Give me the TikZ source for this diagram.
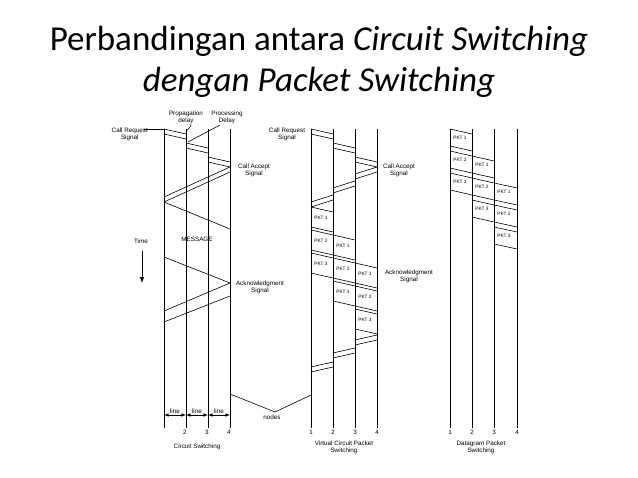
\documentclass[tikz,border=0pt]{standalone}
\usepackage{fontspec}
\setmainfont{Carlito}
\newfontfamily\lab{Liberation Sans}
\begin{document}
\begin{tikzpicture}[x=1pt,y=-1pt,
  ln/.style={line width=0.6pt},
  thk/.style={line width=0.9pt},
  sm/.style={font=\lab\fontsize{6.3}{7}\selectfont,align=center,inner sep=0pt},
  tiny/.style={font=\lab\fontsize{4.8}{5}\selectfont,inner sep=0pt}]
\useasboundingbox (0,0) rectangle (638,478);
\node[font=\fontsize{35}{41}\selectfont,align=center] (title) at (319,62) {Perbandingan antara \textit{Circuit Switching}\\\textit{dengan Packet Switching}};
% ---------- Circuit switching
\foreach \x/\n in {164/1,186/2,208/3,230/4}{\draw[ln] (\x,129)--(\x,428);}
\draw[thk] (208,140)--(208,265);
\draw[thk] (164,232)--(164,428);
\foreach \x/\n in {186/2,208/3,230/4}{\node[sm] (c\n) at (\x-1,432) {\n};}
% call request
\foreach \a/\b/\y in {164/186/129,186/208/143,208/230/157}{
  \draw[ln] (\a,\y)--(\b,\y+5); \draw[ln] (\a,\y+5)--(\b,\y+10);}
% call accept
\draw[ln] (230,167)--(164,197); \draw[ln] (230,172)--(164,202);
% message
\draw[ln] (164,202)--(230,229); \draw[ln] (164,257)--(230,283);
% ack
\draw[ln] (230,283)--(164,311); \draw[ln] (230,296)--(164,322);
\node[sm,anchor=east] (crs) at (148,134) {Call Request\\Signal};
\draw[ln] (144,129)--(164,129);
\node[sm] (pd) at (186,117) {Propagation\\delay};
\draw[ln] (191,124) .. controls (192,128) and (186,128) .. (186,133);
\node[sm] (prd) at (227,117) {Processing\\Delay};
\draw[ln] (220,125)--(188,142);
\node[sm] (cas) at (254,170) {Call Accept\\Signal};
\node[sm] (msg) at (197,239) {MESSAGE};
\node[sm] (time) at (141,241) {Time};
\draw[line width=1pt,-latex] (142,251)--(142,283);
\node[sm] (acks) at (260,287) {Acknowledgment\\Signal};
\foreach \a/\b in {164/186,186/208,208/230}{
  \draw[ln,latex-latex] (\a,415)--(\b,415);
  \node[sm,fill=white,inner sep=0.5pt] at ({(\a+\b)/2},411) {line};}
\node[sm] (nodes) at (272,417) {nodes};
\draw[ln] (230,394)--(275,412)--(311,395);
\node[sm] (cs) at (197,447) {Circuit Switching};
% ---------- Virtual circuit
\foreach \x in {311,333,355,377}{\draw[ln] (\x,129)--(\x,428);}
\foreach \x/\n in {311/1,333/2,355/3,377/4}{\node[sm] at (\x,432) {\n};}
\foreach \a/\b/\y in {311/333/129,333/355/143,355/377/157}{
  \draw[ln] (\a,\y)--(\b,\y+5); \draw[ln] (\a,\y+5)--(\b,\y+10);}
\foreach \a/\b/\y in {377/355/167,355/333/181,333/311/195}{
  \draw[ln] (\a,\y)--(\b,\y+7); \draw[ln] (\a,\y+5)--(\b,\y+12);}
\foreach \h/\a/\b in {0/311/333,1/333/355,2/355/377}{
  \foreach \p in {0,1,2}{
    \pgfmathsetmacro\yy{207+28*\h+23*\p}
    \draw[ln] (\a,\yy)--(\b,\yy+5); \draw[ln] (\a,\yy+20)--(\b,\yy+25);
    \pgfmathtruncatemacro\q{\p+1}
    \node[tiny] at (\a+10,\yy+11) {PKT \q};}}
\foreach \a/\b/\y in {377/355/335,355/333/348,333/311/362}{
  \draw[ln] (\a,\y)--(\b,\y+5); \draw[ln] (\a,\y+5)--(\b,\y+10);}
\node[sm] (crs2) at (287,134) {Call Request\\Signal};
\node[sm] (cas2) at (399,170) {Call Accept\\Signal};
\node[sm] (acks2) at (409,276) {Acknowledgment\\Signal};
\node[sm] (vc) at (344,447) {Virtual Circuit Packet\\Switching};
% ---------- Datagram
\foreach \x in {450,472,494,517}{\draw[ln] (\x,129)--(\x,428);}
\draw[thk] (472,129)--(472,428);
\draw[thk] (517,129)--(517,428);
\foreach \x/\n in {450/1,472/2,494/3,517/4}{\node[sm] at (\x,432) {\n};}
\foreach \h/\a/\b in {0/450/472,1/472/494,2/494/517}{
  \foreach \p in {0,1,2}{
    \pgfmathsetmacro\yy{129+27*\h+22*\p}
    \draw[ln] (\a,\yy)--(\b,\yy+5); \draw[ln] (\a,\yy+17)--(\b,\yy+22);
    \pgfmathtruncatemacro\q{\p+1}
    \node[tiny] at (\a+10,\yy+9) {PKT \q};}}
\node[sm] (dg) at (481,447) {Datagram Packet\\Switching};
\end{tikzpicture}
\end{document}
